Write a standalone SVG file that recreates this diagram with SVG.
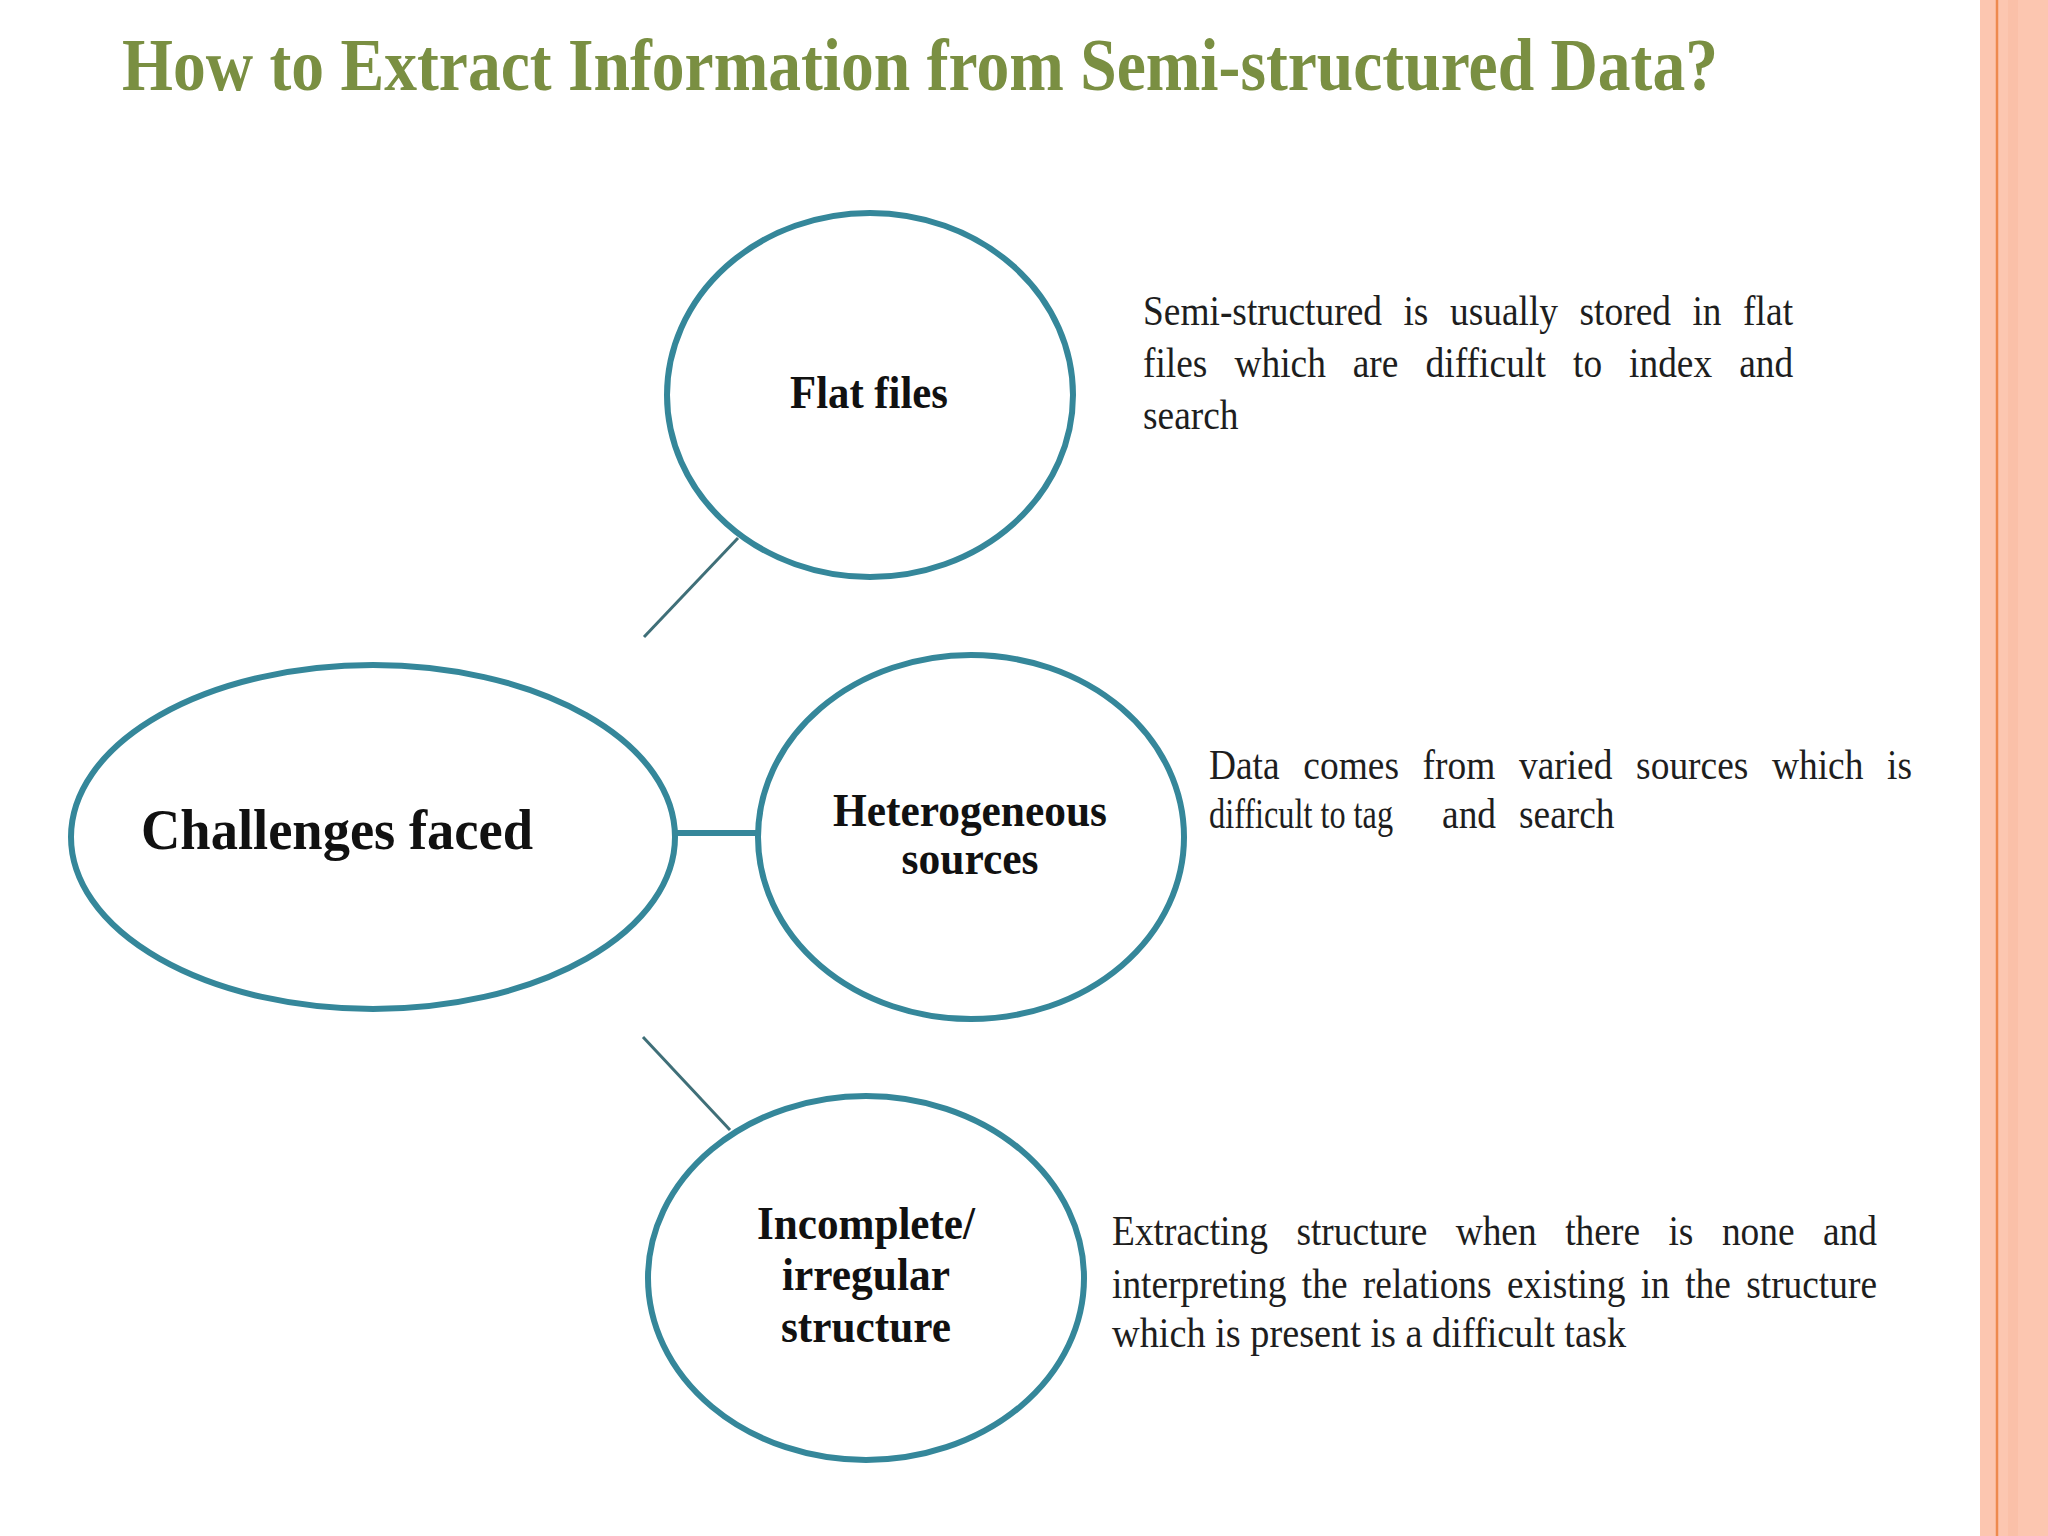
<svg xmlns="http://www.w3.org/2000/svg" width="2048" height="1536" viewBox="0 0 2048 1536">
<style>
.node{fill:#ffffff;stroke:#35879a;stroke-width:6}
.lbl{font-family:"Liberation Serif","Times New Roman",serif;font-weight:bold;fill:#111111;text-anchor:middle}
.desc{font-family:"Liberation Serif","Times New Roman",serif;font-size:43px;fill:#1e1e1e}
.thin{stroke:#3f6f78;stroke-width:3;fill:none}
.thick{stroke:#35879a;stroke-width:6;fill:none}
</style>
<rect x="0" y="0" width="2048" height="1536" fill="#ffffff"/>
<rect x="1980" y="0" width="68" height="1536" fill="#fcc6b0"/>
<rect x="2008" y="0" width="10" height="1536" fill="#f9bca4" opacity="0.6"/>
<line x1="1997" y1="0" x2="1997" y2="1536" stroke="#ee8a4f" stroke-width="2.5"/>

<text x="122" y="90" textLength="1596" lengthAdjust="spacingAndGlyphs" style="font-family:'Liberation Serif','Times New Roman',serif;font-weight:bold;font-size:74px;fill:#7a8f42">How to Extract Information from Semi-structured Data?</text>

<g id="connectors">
<line class="thin" x1="738" y1="538" x2="644" y2="637"/>
<line class="thick" x1="677" y1="833" x2="757" y2="833"/>
<line class="thin" x1="643" y1="1037" x2="730" y2="1130"/>
</g>

<g id="node-flat-files">
<ellipse class="node" cx="870" cy="395" rx="203" ry="182"/>
<text class="lbl" x="869" y="408" font-size="47" textLength="158" lengthAdjust="spacingAndGlyphs">Flat files</text>
</g>

<g id="node-challenges">
<ellipse class="node" cx="373" cy="837" rx="302" ry="172"/>
<text class="lbl" x="337" y="849" font-size="57" textLength="392" lengthAdjust="spacingAndGlyphs">Challenges faced</text>
</g>

<g id="node-heterogeneous">
<ellipse class="node" cx="971" cy="837" rx="213" ry="182"/>
<text class="lbl" x="970" y="826" font-size="47" textLength="274" lengthAdjust="spacingAndGlyphs">Heterogeneous</text>
<text class="lbl" x="970" y="874" font-size="47" textLength="137" lengthAdjust="spacingAndGlyphs">sources</text>
</g>

<g id="node-incomplete">
<ellipse class="node" cx="866" cy="1278" rx="218" ry="182"/>
<text class="lbl" x="866" y="1239" font-size="47" textLength="218" lengthAdjust="spacingAndGlyphs">Incomplete/</text>
<text class="lbl" x="866" y="1290" font-size="47" textLength="168" lengthAdjust="spacingAndGlyphs">irregular</text>
<text class="lbl" x="866" y="1342" font-size="47" textLength="170" lengthAdjust="spacingAndGlyphs">structure</text>
</g>

<g id="desc-flat-files" transform="scale(0.87 1)">
<text class="desc" x="1313.8" y="325" textLength="274.7" lengthAdjust="spacingAndGlyphs">Semi-structured</text>
<text class="desc" x="1613.2" y="325" textLength="28.7" lengthAdjust="spacingAndGlyphs">is</text>
<text class="desc" x="1666.7" y="325" textLength="124.1" lengthAdjust="spacingAndGlyphs">usually</text>
<text class="desc" x="1815.6" y="325" textLength="105.1" lengthAdjust="spacingAndGlyphs">stored</text>
<text class="desc" x="1945.4" y="325" textLength="33.3" lengthAdjust="spacingAndGlyphs">in</text>
<text class="desc" x="2003.6" y="325" textLength="57.5" lengthAdjust="spacingAndGlyphs">flat</text>
<text class="desc" x="1313.8" y="377" textLength="74" lengthAdjust="spacingAndGlyphs">files</text>
<text class="desc" x="1418.9" y="377" textLength="105.1" lengthAdjust="spacingAndGlyphs">which</text>
<text class="desc" x="1554.9" y="377" textLength="52.5" lengthAdjust="spacingAndGlyphs">are</text>
<text class="desc" x="1638.5" y="377" textLength="138.5" lengthAdjust="spacingAndGlyphs">difficult</text>
<text class="desc" x="1808.1" y="377" textLength="33.4" lengthAdjust="spacingAndGlyphs">to</text>
<text class="desc" x="1872.5" y="377" textLength="95.5" lengthAdjust="spacingAndGlyphs">index</text>
<text class="desc" x="1999.1" y="377" textLength="62.1" lengthAdjust="spacingAndGlyphs">and</text>
<text class="desc" x="1313.8" y="429" textLength="109.8" lengthAdjust="spacingAndGlyphs">search</text>
</g>

<g id="desc-heterogeneous" transform="scale(0.87 1)">
<text class="desc" x="1389.7" y="779" textLength="81.1" lengthAdjust="spacingAndGlyphs">Data</text>
<text class="desc" x="1498.1" y="779" textLength="109.9" lengthAdjust="spacingAndGlyphs">comes</text>
<text class="desc" x="1635.1" y="779" textLength="83.6" lengthAdjust="spacingAndGlyphs">from</text>
<text class="desc" x="1745.9" y="779" textLength="107.5" lengthAdjust="spacingAndGlyphs">varied</text>
<text class="desc" x="1880.6" y="779" textLength="129" lengthAdjust="spacingAndGlyphs">sources</text>
<text class="desc" x="2036.7" y="779" textLength="105.1" lengthAdjust="spacingAndGlyphs">which</text>
<text class="desc" x="2169" y="779" textLength="28.7" lengthAdjust="spacingAndGlyphs">is</text>
<text class="desc" x="1389.7" y="828" textLength="211.5" lengthAdjust="spacingAndGlyphs">difficult to tag</text>
<text class="desc" x="1657.5" y="828" textLength="62.1" lengthAdjust="spacingAndGlyphs">and</text>
<text class="desc" x="1746" y="828" textLength="109.8" lengthAdjust="spacingAndGlyphs">search</text>
</g>

<g id="desc-incomplete" transform="scale(0.87 1)">
<text class="desc" x="1278.2" y="1245" textLength="179.2" lengthAdjust="spacingAndGlyphs">Extracting</text>
<text class="desc" x="1490.1" y="1245" textLength="150.5" lengthAdjust="spacingAndGlyphs">structure</text>
<text class="desc" x="1673.2" y="1245" textLength="93.1" lengthAdjust="spacingAndGlyphs">when</text>
<text class="desc" x="1799.1" y="1245" textLength="86" lengthAdjust="spacingAndGlyphs">there</text>
<text class="desc" x="1917.7" y="1245" textLength="28.7" lengthAdjust="spacingAndGlyphs">is</text>
<text class="desc" x="1979.2" y="1245" textLength="83.6" lengthAdjust="spacingAndGlyphs">none</text>
<text class="desc" x="2095.4" y="1245" textLength="62.1" lengthAdjust="spacingAndGlyphs">and</text>
<text class="desc" x="1278.2" y="1298" word-spacing="6.9" textLength="879.3" lengthAdjust="spacingAndGlyphs">interpreting the relations existing in the structure</text>
<text class="desc" x="1278.2" y="1347" textLength="590.8" lengthAdjust="spacingAndGlyphs">which is present is a difficult task</text>
</g>
</svg>
